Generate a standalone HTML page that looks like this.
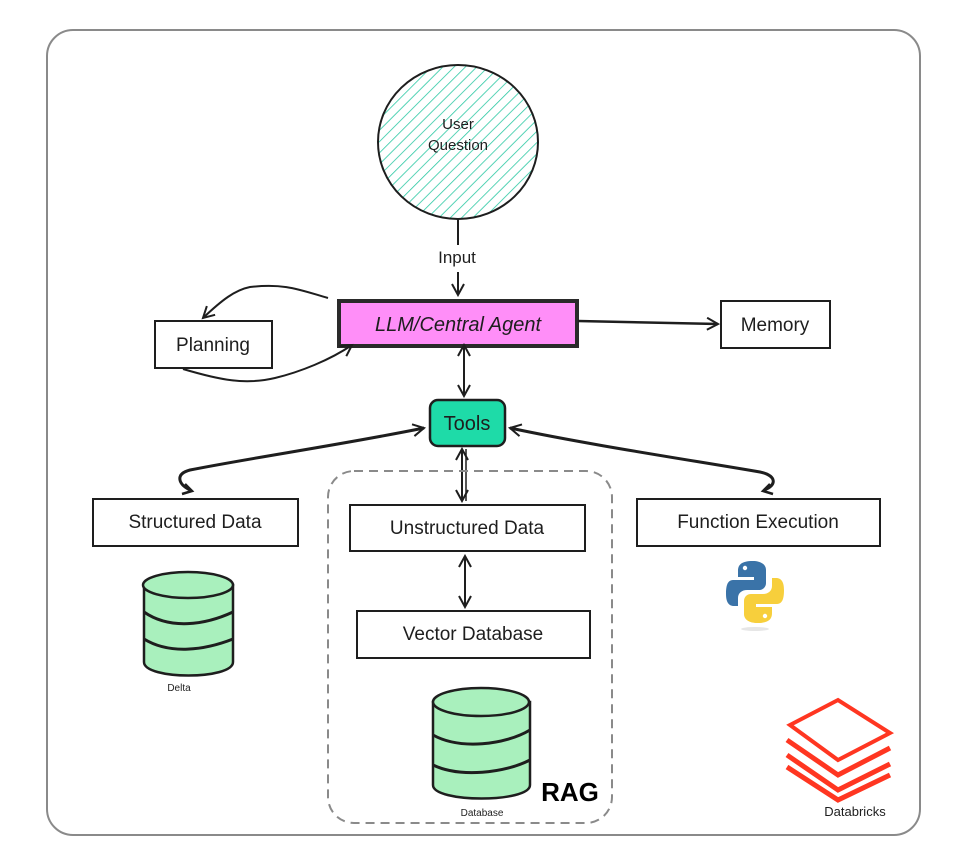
<!DOCTYPE html>
<html><head><meta charset="utf-8"><style>
html,body{margin:0;padding:0;background:#fff;}
svg{display:block;}
text{font-family:"Comic Sans MS","Liberation Sans",sans-serif;fill:#1e1e1e;}
</style></head><body>
<svg width="976" height="863" viewBox="0 0 976 863" xmlns="http://www.w3.org/2000/svg">
<defs>
<pattern id="hatch" width="8" height="8" patternUnits="userSpaceOnUse" patternTransform="rotate(45)">
<rect width="8" height="8" fill="#fff"/><line x1="0" y1="0" x2="0" y2="8" stroke="#2cc9a4" stroke-width="1.6"/>
</pattern>
<marker id="ah" markerWidth="14" markerHeight="14" refX="12" refY="7" orient="auto" markerUnits="userSpaceOnUse">
<path d="M1,1 L12,7 L1,13" fill="none" stroke="#1e1e1e" stroke-width="2"/>
</marker>
<marker id="as" markerWidth="14" markerHeight="14" refX="2" refY="7" orient="auto" markerUnits="userSpaceOnUse">
<path d="M13,1 L2,7 L13,13" fill="none" stroke="#1e1e1e" stroke-width="2"/>
</marker>
</defs>
<rect x="47" y="30" width="873" height="805" rx="26" fill="#fff" stroke="#8a8a8a" stroke-width="2"/>
<ellipse cx="458" cy="142" rx="80" ry="77" fill="url(#hatch)" stroke="#1e1e1e" stroke-width="2"/>
<text x="458" y="129" font-size="15" text-anchor="middle">User</text>
<text x="458" y="150" font-size="15" text-anchor="middle">Question</text>
<line x1="458" y1="218" x2="458" y2="245" stroke="#1e1e1e" stroke-width="2"/>
<text x="457" y="263" font-size="17" text-anchor="middle">Input</text>
<line x1="458" y1="272" x2="458" y2="295" stroke="#1e1e1e" stroke-width="2" marker-end="url(#ah)"/>
<rect x="339" y="301" width="238" height="45" fill="#ff8ef8" stroke="#2a2a2a" stroke-width="4"/>
<text x="458" y="331" font-size="20" font-style="italic" text-anchor="middle">LLM/Central Agent</text>
<line x1="578" y1="321" x2="718" y2="324" stroke="#1e1e1e" stroke-width="2.5" marker-end="url(#ah)"/>
<rect x="721" y="301" width="109" height="47" fill="#fff" stroke="#1e1e1e" stroke-width="2"/>
<text x="775" y="331" font-size="19" text-anchor="middle">Memory</text>
<rect x="155" y="321" width="117" height="47" fill="#fff" stroke="#1e1e1e" stroke-width="2"/>
<text x="213" y="351" font-size="19" text-anchor="middle">Planning</text>
<path d="M328,298 C300,290 285,283 250,287 C235,290 222,300 203,318" fill="none" stroke="#1e1e1e" stroke-width="2" marker-end="url(#ah)"/>
<path d="M183,369 C220,380 245,385 275,378 C300,372 330,360 352,345" fill="none" stroke="#1e1e1e" stroke-width="2" marker-end="url(#ah)"/>
<line x1="464" y1="345" x2="464" y2="396" stroke="#1e1e1e" stroke-width="2" marker-start="url(#as)" marker-end="url(#ah)"/>
<rect x="430" y="400" width="75" height="46" rx="8" fill="#1edba8" stroke="#1e1e1e" stroke-width="2.5"/>
<text x="467" y="430" font-size="20" text-anchor="middle">Tools</text>
<path d="M424,428 C340,445 250,458 190,470 C175,474 178,484 190,490" fill="none" stroke="#1e1e1e" stroke-width="3" marker-start="url(#as)"/>
<path d="M185,484 L192,491 L182,494" fill="none" stroke="#1e1e1e" stroke-width="2.5"/>
<path d="M510,428 C590,445 690,460 760,472 C778,476 776,486 764,490" fill="none" stroke="#1e1e1e" stroke-width="3" marker-start="url(#as)"/>
<path d="M770,484 L763,491 L773,494" fill="none" stroke="#1e1e1e" stroke-width="2.5"/>
<line x1="462" y1="449" x2="462" y2="501" stroke="#1e1e1e" stroke-width="2" marker-start="url(#as)" marker-end="url(#ah)"/>
<line x1="466" y1="449" x2="466" y2="501" stroke="#1e1e1e" stroke-width="1.5"/>
<rect x="328" y="471" width="284" height="352" rx="26" fill="none" stroke="#8a8a8a" stroke-width="2" stroke-dasharray="9,6"/>
<rect x="93" y="499" width="205" height="47" fill="#fff" stroke="#1e1e1e" stroke-width="2"/>
<text x="195" y="528" font-size="19" text-anchor="middle">Structured Data</text>
<rect x="350" y="505" width="235" height="46" fill="#fff" stroke="#1e1e1e" stroke-width="2"/>
<text x="467" y="534" font-size="19" text-anchor="middle">Unstructured Data</text>
<line x1="465" y1="556" x2="465" y2="607" stroke="#1e1e1e" stroke-width="2" marker-start="url(#as)" marker-end="url(#ah)"/>
<rect x="357" y="611" width="233" height="47" fill="#fff" stroke="#1e1e1e" stroke-width="2"/>
<text x="473" y="640" font-size="19" text-anchor="middle">Vector Database</text>
<rect x="637" y="499" width="243" height="47" fill="#fff" stroke="#1e1e1e" stroke-width="2"/>
<text x="758" y="528" font-size="19" text-anchor="middle">Function Execution</text>
<g stroke="#1e1e1e" stroke-width="2.5" fill="#a9f0bd">
<path d="M144,585 L144,662 C144,680 233,680 233,662 L233,585 Z"/>
<ellipse cx="188" cy="585" rx="45" ry="13"/>
<path d="M144,612 C170,630 205,625 233,612" fill="none" stroke-width="3"/>
<path d="M144,639 C170,655 205,650 233,639" fill="none" stroke-width="3"/>
</g>
<text x="179" y="691" font-size="10" text-anchor="middle">Delta</text>
<g stroke="#1e1e1e" stroke-width="2.5" fill="#a9f0bd">
<path d="M433,702 L433,785 C433,803 530,803 530,785 L530,702 Z"/>
<ellipse cx="481" cy="702" rx="48" ry="14"/>
<path d="M433,735 C460,750 505,745 530,730" fill="none" stroke-width="3"/>
<path d="M433,765 C460,778 505,773 530,760" fill="none" stroke-width="3"/>
</g>
<text x="482" y="816" font-size="10" text-anchor="middle">Database</text>
<text x="570" y="801" font-size="26" font-weight="bold" text-anchor="middle" style="fill:#000">RAG</text>
<g transform="translate(726,561)">
<path d="M27,0 C15,0 12,4 12,10 L12,16 L28,16 L28,19 L7,19 C1,19 0,26 0,33 C0,40 2,45 8,45 L12,45 L12,37 C12,32 16,29 21,29 L33,29 C37,29 40,26 40,22 L40,9 C40,3 34,0 27,0 Z" fill="#3a73a8"/>
<circle cx="19" cy="7" r="2.2" fill="#fff"/>
<path d="M31,62 C43,62 46,58 46,52 L46,46 L30,46 L30,43 L51,43 C57,43 58,36 58,29 C58,22 56,17 50,17 L46,17 L46,25 C46,30 42,33 37,33 L25,33 C21,33 18,36 18,40 L18,53 C18,59 24,62 31,62 Z" fill="#f7cf3c"/>
<circle cx="39" cy="55" r="2.2" fill="#fff"/>
<ellipse cx="29" cy="68" rx="14" ry="2" fill="#e6e6e6"/>
</g>
<g stroke="#ff3621" stroke-width="5" fill="none" stroke-linejoin="miter">
<path d="M790,725 L838,700 L890,733 L838,760 Z" stroke-width="4"/>
<path d="M787,740 L838,775 L890,748"/>
<path d="M787,755 L838,790 L890,764"/>
<path d="M787,767 L838,800 L890,775"/>
</g>
<text x="855" y="816" font-size="13" text-anchor="middle">Databricks</text>
</svg>
</body></html>
